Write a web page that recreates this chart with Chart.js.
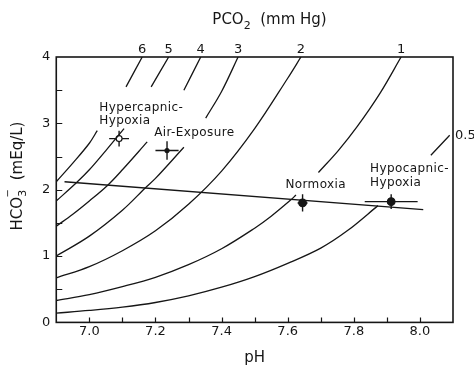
<!DOCTYPE html>
<html>
<head>
<meta charset="utf-8">
<script src="https://cdn.jsdelivr.net/npm/chart.js@4"></script>
<style>
  html, body { margin: 0; padding: 0; background: #fff; }
  #wrap { width: 474px; height: 389px; }
</style>
</head>
<body>
<div id="wrap"><canvas id="chart"></canvas></div>
<script>
// PCO2 isopleths, [pH, HCO3-]; null = gap left for a label
const pco2Labels = ['6', '5', '4', '3', '2', '1', '0.5'];
const iso6 = [[6.9, 2.12], [6.95, 2.4], [7.0, 2.7], [7.024, 2.89], null, [7.111, 3.55], [7.16, 4.0]];
const iso5 = [[6.9, 1.83], [6.96, 2.1], [7.0, 2.3], [7.05, 2.59], [7.105, 2.92], null, [7.187, 3.55], [7.24, 4.0]];
const iso4 = [[6.9, 1.45], [6.95, 1.63], [7.0, 1.83], [7.054, 2.06], [7.1, 2.3], [7.175, 2.72], null, [7.286, 3.5], [7.337, 4.0]];
const iso3 = [[6.9, 1.0], [7.0, 1.3], [7.1, 1.69], [7.17, 2.03], [7.2, 2.17], [7.286, 2.64], null, [7.352, 3.08], [7.4, 3.48], [7.45, 4.0]];
const iso2 = [[6.9, 0.67], [7.0, 0.84], [7.1, 1.08], [7.2, 1.38], [7.3, 1.78], [7.4, 2.28], [7.5, 2.92], [7.6, 3.68], [7.64, 4.0]];
const iso1 = [[6.9, 0.33], [7.0, 0.42], [7.1, 0.54], [7.2, 0.68], [7.3, 0.87], [7.4, 1.11], [7.5, 1.42], [7.55, 1.6], [7.608, 1.84], [7.625, 1.92], null,
              [7.693, 2.26], [7.753, 2.59], [7.81, 2.95], [7.88, 3.46], [7.943, 4.0]];
const iso05 = [[6.9, 0.14], [7.0, 0.18], [7.1, 0.23], [7.2, 0.3], [7.3, 0.4], [7.4, 0.53], [7.5, 0.69], [7.6, 0.89], [7.7, 1.12],
               [7.78, 1.38], [7.873, 1.76], null, [8.033, 2.52], [8.09, 2.82]];
const isopleths = [iso6, iso5, iso4, iso3, iso2, iso1, iso05];

// non-bicarbonate buffer line
const bufferLine = [[6.925, 2.12], [8.01, 1.70]];

// group means with error bars
const groups = ['Hypercapnic-Hypoxia', 'Air-Exposure', 'Normoxia', 'Hypocapnic-Hypoxia'];
const groupPH = [7.09, 7.235, 7.645, 7.913];
const groupHCO3 = [2.77, 2.59, 1.80, 1.82];
const groupPHerr = [0.03, 0.035, 0.015, 0.08];
const groupHCO3err = [0.12, 0.14, 0.13, 0.11];

// axis ticks
const phTicks = [7.0, 7.2, 7.4, 7.6, 7.8, 8.0];
const hco3Ticks = [0, 1, 2, 3, 4];

const INK = '#161616';
const FONT = "'DejaVu Sans', sans-serif";

// split an isopleth at its gaps into drawable segments
function segments(pts) {
  const out = [];
  let cur = [];
  pts.forEach(p => {
    if (p === null) { if (cur.length) out.push(cur); cur = []; }
    else cur.push({ x: p[0], y: p[1] });
  });
  if (cur.length) out.push(cur);
  return out;
}

const datasets = [];
isopleths.forEach(iso => {
  segments(iso).forEach(seg => {
    datasets.push({ data: seg, showLine: true, pointRadius: 0, borderColor: INK, borderWidth: 1.3, tension: 0.35 });
  });
});
datasets.push({
  data: bufferLine.map(p => ({ x: p[0], y: p[1] })),
  showLine: true, pointRadius: 0, borderColor: INK, borderWidth: 1.4
});
datasets.push({
  data: groupPH.map((v, i) => ({ x: v, y: groupHCO3[i] })),
  showLine: false,
  pointRadius: [3, 2, 3.8, 3.8],
  pointBackgroundColor: ['#fff', INK, INK, INK],
  pointBorderColor: INK,
  pointBorderWidth: 1.2
});

// mixed-size text run: parts = [[text, size, dy, stackedOverPrevious], ...]
function drawRun(ctx, parts, cx, cy) {
  let total = 0;
  parts.forEach(p => { ctx.font = p[1] + 'px ' + FONT; p.w = ctx.measureText(p[0]).width; if (!p[3]) total += p.w; });
  let sx = cx - total / 2, prev = 0;
  parts.forEach(p => {
    ctx.font = p[1] + 'px ' + FONT;
    if (p[3]) ctx.fillText(p[0], sx - prev + (prev - p.w) / 2, cy + p[2]);
    else { ctx.fillText(p[0], sx, cy + p[2]); sx += p.w; prev = p.w; }
  });
}

// frame, inward ticks, error bars and text
const decor = {
  id: 'decor',
  beforeDatasetsDraw(chart) {
    const { ctx, scales: { x, y } } = chart;
    ctx.save();
    ctx.strokeStyle = INK;
    ctx.lineWidth = 1.4;
    groups.forEach((g, i) => {
      const px = x.getPixelForValue(groupPH[i]);
      const py = y.getPixelForValue(groupHCO3[i]);
      ctx.beginPath();
      ctx.moveTo(x.getPixelForValue(groupPH[i] - groupPHerr[i]), py);
      ctx.lineTo(x.getPixelForValue(groupPH[i] + groupPHerr[i]), py);
      ctx.moveTo(px, y.getPixelForValue(groupHCO3[i] - groupHCO3err[i]));
      ctx.lineTo(px, y.getPixelForValue(groupHCO3[i] + groupHCO3err[i]));
      ctx.stroke();
    });
    ctx.restore();
  },
  afterDraw(chart) {
    const { ctx, chartArea: a, scales: { x, y } } = chart;
    ctx.save();
    ctx.strokeStyle = INK;
    ctx.lineWidth = 1.6;
    ctx.strokeRect(a.left, a.top, a.right - a.left, a.bottom - a.top);

    ctx.lineWidth = 1.2;
    ctx.beginPath();
    for (let v = 7.0; v < 8.05; v += 0.1) {
      const px = Math.round(x.getPixelForValue(v)) + 0.5;
      ctx.moveTo(px, a.bottom); ctx.lineTo(px, a.bottom - 5);
    }
    for (let v = 0.5; v < 4; v += 0.5) {
      const py = Math.round(y.getPixelForValue(v)) + 0.5;
      ctx.moveTo(a.left, py); ctx.lineTo(a.left + 6, py);
    }
    ctx.stroke();

    ctx.fillStyle = INK;
    // PCO2 values at the ends of the isopleths
    ctx.font = '13px ' + FONT;
    isopleths.forEach((iso, i) => {
      const last = iso[iso.length - 1];
      if (last[1] >= 4) {
        ctx.textAlign = 'center';
        ctx.textBaseline = 'alphabetic';
        ctx.fillText(pco2Labels[i], x.getPixelForValue(last[0]), a.top - 4);
      } else {
        ctx.textAlign = 'left';
        ctx.textBaseline = 'middle';
        ctx.fillText(pco2Labels[i], a.right + 2, y.getPixelForValue(last[1]));
      }
    });

    // top title PCO2 (mm Hg)
    ctx.textAlign = 'left';
    ctx.textBaseline = 'alphabetic';
    drawRun(ctx, [['PCO', 15, 0], ['2', 11, 5], ['  (mm Hg)', 15, 0]], x.getPixelForValue(7.545), 24);

    // left title HCO3- (mEq/L), rotated
    ctx.save();
    ctx.translate(22, 176);
    ctx.rotate(-Math.PI / 2);
    drawRun(ctx, [['HCO', 15, 0], ['3', 11, 4], ['\u2212', 10, -11, true], ['  (mEq/L)', 15, 0]], 0, 0);
    ctx.restore();

    // group labels
    ctx.font = '12px ' + FONT;
    ctx.letterSpacing = '0.4px';
    ctx.textAlign = 'left';
    ctx.textBaseline = 'middle';
    const notes = [
      ['Hypercapnic-', 7.03, 3.23], ['Hypoxia', 7.03, 3.03],
      ['Air-Exposure', 7.196, 2.85],
      ['Normoxia', 7.593, 2.08],
      ['Hypocapnic-', 7.849, 2.32], ['Hypoxia', 7.849, 2.11]
    ];
    notes.forEach(n => ctx.fillText(n[0], x.getPixelForValue(n[1]), y.getPixelForValue(n[2])));
    ctx.restore();
  }
};

new Chart(document.getElementById('chart'), {
  type: 'scatter',
  data: { datasets },
  options: {
    responsive: true,
    maintainAspectRatio: false,
    animation: false,
    layout: { padding: { top: 57, right: 21, left: 36, bottom: 18 } },
    plugins: { legend: { display: false }, tooltip: { enabled: false } },
    scales: {
      x: {
        type: 'linear', min: 6.9, max: 8.1,
        afterBuildTicks: s => { s.ticks = phTicks.map(v => ({ value: v })); },
        ticks: { color: INK, font: { family: FONT, size: 13 }, padding: 1, maxRotation: 0,
                 callback: v => v.toFixed(1) },
        grid: { display: false, drawTicks: false },
        border: { display: false },
        title: { display: true, text: 'pH', color: INK, font: { family: FONT, size: 15 }, padding: { top: 9 } }
      },
      y: {
        min: 0, max: 4,
        afterBuildTicks: s => { s.ticks = hco3Ticks.map(v => ({ value: v })); },
        ticks: { color: INK, font: { family: FONT, size: 13 }, padding: 6, callback: v => String(v) },
        grid: { display: false, drawTicks: false },
        border: { display: false },
        title: { display: false }
      }
    }
  },
  plugins: [decor]
});
</script>
</body>
</html>
